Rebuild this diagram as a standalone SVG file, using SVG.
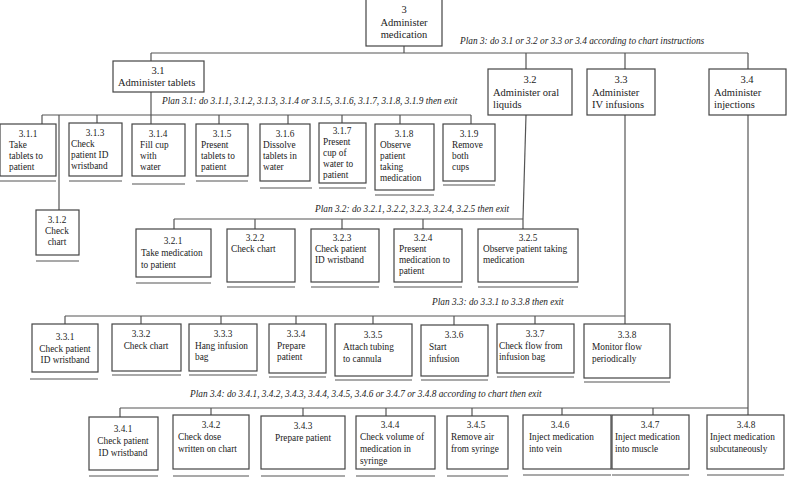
<svg xmlns="http://www.w3.org/2000/svg" width="787" height="479" viewBox="0 0 787 479" font-family="'Liberation Serif','DejaVu Serif',serif">
<style>
rect{fill:#fff;stroke:#444;stroke-width:1.2}
.c line{stroke:#555;stroke-width:1.2}
.u{stroke:#555;stroke-width:1.2}
text{font-family:'Liberation Serif','DejaVu Serif','Times New Roman',serif;font-size:9.3px;fill:#222}
.n{text-anchor:middle}
.p{font-style:italic;font-size:9.3px}
.b text{font-size:10.5px}
</style>
<rect x="0" y="0" width="787" height="479" style="fill:#fff;stroke:none"/>
<g class="c">
<line x1="404" y1="46" x2="404" y2="53"/><line x1="151" y1="53" x2="748" y2="53"/>
<line x1="151" y1="53" x2="151" y2="61"/><line x1="526" y1="53" x2="526" y2="69"/><line x1="625" y1="53" x2="625" y2="69"/><line x1="748" y1="53" x2="748" y2="69"/>
<line x1="151" y1="92" x2="151" y2="115"/><line x1="42" y1="115" x2="471" y2="115"/>
<line x1="42" y1="115" x2="42" y2="124"/><line x1="59" y1="115" x2="59" y2="210"/><line x1="97" y1="115" x2="97" y2="123"/><line x1="151" y1="115" x2="151" y2="124"/><line x1="219" y1="115" x2="219" y2="124"/><line x1="288" y1="115" x2="288" y2="124"/><line x1="342" y1="115" x2="342" y2="123"/><line x1="400" y1="115" x2="400" y2="124"/><line x1="471" y1="115" x2="471" y2="124"/>
<line x1="526" y1="115" x2="523" y2="219"/><line x1="174" y1="219" x2="523" y2="219"/>
<line x1="174" y1="219" x2="174" y2="229"/><line x1="255" y1="219" x2="255" y2="229"/><line x1="342" y1="219" x2="342" y2="229"/><line x1="423" y1="219" x2="423" y2="229"/><line x1="523" y1="219" x2="523" y2="229"/>
<line x1="625" y1="115" x2="625" y2="316"/><line x1="65" y1="316" x2="625" y2="316"/>
<line x1="65" y1="316" x2="65" y2="324"/><line x1="141" y1="316" x2="141" y2="324"/><line x1="221" y1="316" x2="221" y2="324"/><line x1="296" y1="316" x2="296" y2="324"/><line x1="373" y1="316" x2="373" y2="324"/><line x1="454" y1="316" x2="454" y2="325"/><line x1="535" y1="316" x2="535" y2="324"/><line x1="625" y1="316" x2="625" y2="324"/>
<line x1="748" y1="115" x2="748" y2="408"/><line x1="120" y1="408" x2="748" y2="408"/>
<line x1="120" y1="408" x2="120" y2="417"/><line x1="211" y1="408" x2="211" y2="415"/><line x1="303" y1="408" x2="303" y2="416"/><line x1="386" y1="408" x2="386" y2="416"/><line x1="472" y1="408" x2="472" y2="416"/><line x1="562" y1="408" x2="562" y2="415"/><line x1="653" y1="408" x2="653" y2="415"/><line x1="748" y1="408" x2="748" y2="415"/>
</g>
<text class="p" x="460" y="44">Plan 3: do 3.1 or 3.2 or 3.3 or 3.4 according to chart instructions</text>
<text class="p" x="162" y="104">Plan 3.1: do 3.1.1, 3.1.2, 3.1.3, 3.1.4 or 3.1.5, 3.1.6, 3.1.7, 3.1.8, 3.1.9 then exit</text>
<text class="p" x="315" y="212">Plan 3.2: do 3.2.1, 3.2.2, 3.2.3, 3.2.4, 3.2.5 then exit</text>
<text class="p" x="432" y="305">Plan 3.3:  do 3.3.1 to 3.3.8 then exit</text>
<text class="p" x="190" y="397">Plan 3.4: do 3.4.1, 3.4.2, 3.4.3, 3.4.4, 3.4.5, 3.4.6 or 3.4.7 or 3.4.8 according to chart then exit</text>
<g id="n3" class="b"><rect x="366" y="-1" width="76" height="47"/><text class="n" x="404" y="13">3</text><text class="n" x="404" y="26">Administer</text><text class="n" x="404" y="38">medication</text></g>
<g id="n3_1" class="b"><rect x="113" y="61" width="91" height="31"/><text class="n" x="158" y="74">3.1</text><text x="118" y="86">Administer tablets</text></g>
<g id="n3_2" class="b"><rect x="488" y="69" width="84" height="46"/><text class="n" x="530" y="83">3.2</text><text x="493" y="96">Administer oral</text><text x="493" y="108">liquids</text></g>
<g id="n3_3" class="b"><rect x="587" y="69" width="68" height="46"/><text class="n" x="621" y="83">3.3</text><text x="592" y="96">Administer</text><text x="592" y="108">IV infusions</text></g>
<g id="n3_4" class="b"><rect x="709" y="69" width="77" height="46"/><text class="n" x="747" y="83">3.4</text><text x="714" y="96">Administer</text><text x="714" y="108">injections</text></g>

<g id="n3_1_1"><rect x="0" y="124" width="56" height="52"/><text class="n" x="28" y="137">3.1.1</text><text x="9" y="148">Take</text><text x="9" y="159">tablets to</text><text x="9" y="170">patient</text><line class="u" x1="0" y1="181" x2="56" y2="181"/></g>
<g id="n3_1_2"><rect x="36" y="210" width="43" height="45"/><text class="n" x="57" y="223">3.1.2</text><text class="n" x="57" y="234">Check</text><text class="n" x="57" y="245">chart</text><line class="u" x1="36" y1="261" x2="79" y2="261"/></g>
<g id="n3_1_3"><rect x="69" y="123" width="53" height="53"/><text class="n" x="95" y="136">3.1.3</text><text x="71" y="147">Check</text><text x="71" y="158">patient ID</text><text x="71" y="169">wristband</text><line class="u" x1="69" y1="181" x2="122" y2="181"/></g>
<g id="n3_1_4"><rect x="132" y="124" width="53" height="52"/><text class="n" x="158" y="137">3.1.4</text><text x="140" y="148">Fill cup</text><text x="140" y="159">with</text><text x="140" y="170">water</text><line class="u" x1="132" y1="184" x2="185" y2="184"/></g>
<g id="n3_1_5"><rect x="196" y="124" width="52" height="52"/><text class="n" x="222" y="137">3.1.5</text><text x="201" y="148">Present</text><text x="201" y="159">tablets to</text><text x="201" y="170">patient</text><line class="u" x1="196" y1="181" x2="248" y2="181"/></g>
<g id="n3_1_6"><rect x="260" y="124" width="50" height="57"/><text class="n" x="285" y="137">3.1.6</text><text x="263" y="148">Dissolve</text><text x="263" y="159">tablets in</text><text x="263" y="170">water</text><line class="u" x1="260" y1="188" x2="312" y2="188"/></g>
<g id="n3_1_7"><rect x="319" y="123" width="47" height="60"/><text class="n" x="342" y="134">3.1.7</text><text x="323" y="145">Present</text><text x="323" y="156">cup of</text><text x="323" y="167">water to</text><text x="323" y="178">patient</text><line class="u" x1="319" y1="188" x2="366" y2="188"/></g>
<g id="n3_1_8"><rect x="375" y="124" width="59" height="66"/><text class="n" x="404" y="137">3.1.8</text><text x="380" y="148">Observe</text><text x="380" y="159">patient</text><text x="380" y="170">taking</text><text x="380" y="181">medication</text><line class="u" x1="375" y1="195" x2="434" y2="195"/></g>
<g id="n3_1_9"><rect x="443" y="124" width="52" height="57"/><text class="n" x="469" y="137">3.1.9</text><text x="452" y="148">Remove</text><text x="452" y="159">both</text><text x="452" y="170">cups</text><line class="u" x1="443" y1="185" x2="495" y2="185"/></g>

<g id="n3_2_1"><rect x="136" y="229" width="75" height="48"/><text class="n" x="173" y="244">3.2.1</text><text x="141" y="256">Take  medication</text><text x="141" y="268">to patient</text><line class="u" x1="136" y1="283" x2="211" y2="283"/></g>
<g id="n3_2_2"><rect x="227" y="229" width="68" height="53"/><text class="n" x="255" y="241">3.2.2</text><text x="231" y="252">Check chart</text><line class="u" x1="227" y1="287" x2="295" y2="287"/></g>
<g id="n3_2_3"><rect x="311" y="229" width="68" height="53"/><text class="n" x="342" y="241">3.2.3</text><text x="315" y="252">Check patient</text><text x="315" y="263">ID wristband</text><line class="u" x1="311" y1="287" x2="379" y2="287"/></g>
<g id="n3_2_4"><rect x="394" y="229" width="68" height="53"/><text class="n" x="423" y="241">3.2.4</text><text x="399" y="252">Present</text><text x="399" y="263">medication to</text><text x="399" y="274">patient</text><line class="u" x1="394" y1="287" x2="462" y2="287"/></g>
<g id="n3_2_5"><rect x="478" y="229" width="100" height="53"/><text class="n" x="528" y="241">3.2.5</text><text x="483" y="252">Observe patient taking</text><text x="483" y="263">medication</text><line class="u" x1="478" y1="287" x2="578" y2="287"/></g>

<g id="n3_3_1"><rect x="32" y="324" width="66" height="48"/><text class="n" x="65" y="340">3.3.1</text><text class="n" x="65" y="352">Check patient</text><text class="n" x="65" y="363">ID wristband</text><line class="u" x1="30" y1="379" x2="98" y2="379"/></g>
<g id="n3_3_2"><rect x="112" y="324" width="69" height="47"/><text class="n" x="141" y="337">3.3.2</text><text class="n" x="146" y="349">Check chart</text><line class="u" x1="112" y1="375" x2="181" y2="375"/></g>
<g id="n3_3_3"><rect x="189" y="324" width="68" height="47"/><text class="n" x="223" y="337">3.3.3</text><text x="195" y="349">Hang infusion</text><text x="195" y="360">bag</text><line class="u" x1="189" y1="375" x2="257" y2="375"/></g>
<g id="n3_3_4"><rect x="269" y="324" width="57" height="49"/><text class="n" x="296" y="337">3.3.4</text><text x="277" y="349">Prepare</text><text x="277" y="360">patient</text><line class="u" x1="269" y1="377" x2="326" y2="377"/></g>
<g id="n3_3_5"><rect x="335" y="324" width="77" height="52"/><text class="n" x="373" y="338">3.3.5</text><text x="343" y="350">Attach tubing</text><text x="343" y="362">to cannula</text><line class="u" x1="335" y1="380" x2="412" y2="380"/></g>
<g id="n3_3_6"><rect x="421" y="325" width="67" height="51"/><text class="n" x="454" y="338">3.3.6</text><text x="429" y="350">Start</text><text x="429" y="362">infusion</text><line class="u" x1="421" y1="380" x2="488" y2="380"/></g>
<g id="n3_3_7"><rect x="497" y="324" width="77" height="49"/><text class="n" x="535" y="337">3.3.7</text><text x="499" y="349">Check flow from</text><text x="499" y="360">infusion bag</text><line class="u" x1="497" y1="377" x2="574" y2="377"/></g>
<g id="n3_3_8"><rect x="584" y="324" width="86" height="54"/><text class="n" x="627" y="338">3.3.8</text><text x="592" y="350">Monitor flow</text><text x="592" y="362">periodically</text><line class="u" x1="584" y1="382" x2="670" y2="382"/></g>

<g id="n3_4_1"><rect x="89" y="417" width="69" height="53"/><text class="n" x="123" y="432">3.4.1</text><text class="n" x="123" y="444">Check patient</text><text class="n" x="123" y="456">ID wristband</text><line class="u" x1="89" y1="476" x2="158" y2="476"/></g>
<g id="n3_4_2"><rect x="173" y="415" width="76" height="54"/><text class="n" x="211" y="428">3.4.2</text><text x="178" y="440">Check dose</text><text x="178" y="452">written on chart</text><line class="u" x1="173" y1="476" x2="249" y2="476"/></g>
<g id="n3_4_3"><rect x="261" y="416" width="84" height="53"/><text class="n" x="303" y="429">3.4.3</text><text class="n" x="303" y="441">Prepare patient</text><line class="u" x1="261" y1="476" x2="345" y2="476"/></g>
<g id="n3_4_4"><rect x="356" y="416" width="79" height="53"/><text class="n" x="390" y="428">3.4.4</text><text x="360" y="440">Check volume of</text><text x="360" y="452">medication in</text><text x="360" y="464">syringe</text><line class="u" x1="356" y1="476" x2="435" y2="476"/></g>
<g id="n3_4_5"><rect x="447" y="416" width="61" height="53"/><text class="n" x="476" y="428">3.4.5</text><text x="451" y="440">Remove air</text><text x="451" y="452">from syringe</text><line class="u" x1="447" y1="476" x2="508" y2="476"/></g>
<g id="n3_4_6"><rect x="523" y="415" width="88" height="54"/><text class="n" x="560" y="428">3.4.6</text><text x="529" y="440">Inject medication</text><text x="529" y="452">into vein</text><line class="u" x1="523" y1="475" x2="611" y2="475"/></g>
<g id="n3_4_7"><rect x="612" y="415" width="77" height="54"/><text class="n" x="650" y="428">3.4.7</text><text x="615" y="440">Inject medication</text><text x="615" y="452">into muscle</text><line class="u" x1="612" y1="475" x2="689" y2="475"/></g>
<g id="n3_4_8"><rect x="707" y="415" width="77" height="54"/><text class="n" x="746" y="428">3.4.8</text><text x="710" y="440">Inject medication</text><text x="710" y="452">subcutaneously</text><line class="u" x1="707" y1="475" x2="784" y2="475"/></g>
</svg>
